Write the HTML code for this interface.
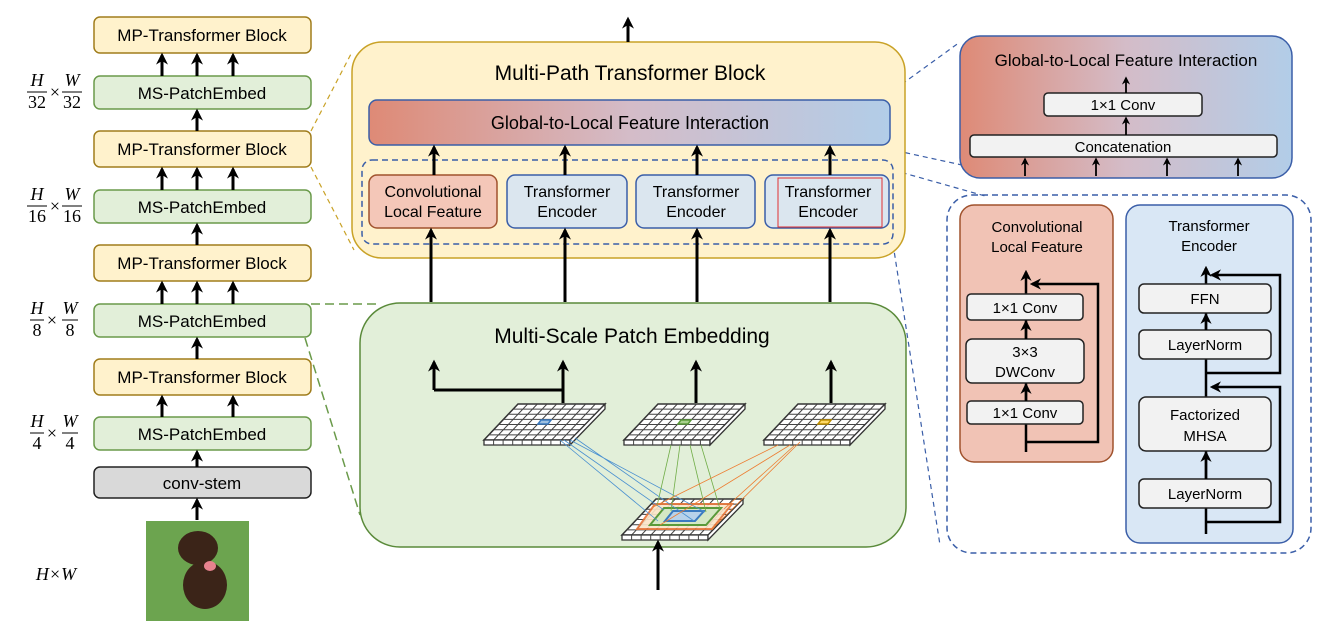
<!DOCTYPE html>
<html><head><meta charset="utf-8"><style>
html,body{margin:0;padding:0;background:#fff;}
svg{display:block;font-family:"Liberation Sans",sans-serif;}
</style></head><body>
<svg width="1331" height="637" viewBox="0 0 1331 637" xmlns="http://www.w3.org/2000/svg">
<defs>
<marker id="ah" viewBox="0 0 10 10" refX="8" refY="5" markerWidth="4" markerHeight="4" orient="auto-start-reverse"><path d="M0,0 L10,5 L0,10 L3,5 z" fill="#000"/></marker>
<marker id="ahs" viewBox="0 0 10 10" refX="8" refY="5" markerWidth="4.5" markerHeight="4.5" orient="auto-start-reverse"><path d="M0,0 L10,5 L0,10 L3,5 z" fill="#000"/></marker>
<linearGradient id="gl" x1="0" x2="1" y1="0" y2="0"><stop offset="0" stop-color="#de8a76"/><stop offset="0.5" stop-color="#d4bcc8"/><stop offset="1" stop-color="#b2cde8"/></linearGradient>
<g id="gridu">
<rect x="0" y="0" width="9" height="7" fill="#fff" stroke="#333" vector-effect="non-scaling-stroke" stroke-width="1.5"/>
<path d="M1,0V7M2,0V7M3,0V7M4,0V7M5,0V7M6,0V7M7,0V7M8,0V7M0,1H9M0,2H9M0,3H9M0,4H9M0,5H9M0,6H9" stroke="#444" stroke-width="1" vector-effect="non-scaling-stroke" fill="none"/>
</g>
<g id="grid">
<use href="#gridu" transform="matrix(9.67,0,-4.86,5.14,518,404)"/>
<polygon points="484,440 570,440 570,445 484,445" fill="#fff" stroke="#333" stroke-width="1.3"/>
<polygon points="570,440 605,404 605,409 570,445" fill="#fff" stroke="#333" stroke-width="1.3"/>
<path d="M493.6,440V445M503.1,440V445M512.7,440V445M522.2,440V445M531.8,440V445M541.3,440V445M550.9,440V445M560.4,440V445" stroke="#444" stroke-width="1"/>
</g>
</defs>

<!-- LEFT COLUMN -->
<g font-size="17" text-anchor="middle" fill="#000">
<rect x="94" y="17" width="217" height="36" rx="6" fill="#fff2cc" stroke="#a07d1c" stroke-width="1.5"/><text x="202" y="41">MP-Transformer Block</text>
<rect x="94" y="76" width="217" height="33" rx="6" fill="#e2efd9" stroke="#6a9a4a" stroke-width="1.5"/><text x="202" y="99">MS-PatchEmbed</text>
<rect x="94" y="131" width="217" height="36" rx="6" fill="#fff2cc" stroke="#a07d1c" stroke-width="1.5"/><text x="202" y="155">MP-Transformer Block</text>
<rect x="94" y="190" width="217" height="33" rx="6" fill="#e2efd9" stroke="#6a9a4a" stroke-width="1.5"/><text x="202" y="213">MS-PatchEmbed</text>
<rect x="94" y="245" width="217" height="36" rx="6" fill="#fff2cc" stroke="#a07d1c" stroke-width="1.5"/><text x="202" y="269">MP-Transformer Block</text>
<rect x="94" y="304" width="217" height="33" rx="6" fill="#e2efd9" stroke="#6a9a4a" stroke-width="1.5"/><text x="202" y="327">MS-PatchEmbed</text>
<rect x="94" y="359" width="217" height="36" rx="6" fill="#fff2cc" stroke="#a07d1c" stroke-width="1.5"/><text x="202" y="383">MP-Transformer Block</text>
<rect x="94" y="417" width="217" height="33" rx="6" fill="#e2efd9" stroke="#6a9a4a" stroke-width="1.5"/><text x="202" y="440">MS-PatchEmbed</text>
<rect x="94" y="467" width="217" height="31" rx="6" fill="#d9d9d9" stroke="#222" stroke-width="1.5"/><text x="202" y="489">conv-stem</text>
</g>
<g stroke="#000" stroke-width="3" marker-end="url(#ah)">
<line x1="162" y1="76" x2="162" y2="55"/><line x1="197" y1="76" x2="197" y2="55"/><line x1="233" y1="76" x2="233" y2="55"/>
<line x1="197" y1="131" x2="197" y2="111"/>
<line x1="162" y1="190" x2="162" y2="169"/><line x1="197" y1="190" x2="197" y2="169"/><line x1="233" y1="190" x2="233" y2="169"/>
<line x1="197" y1="245" x2="197" y2="225"/>
<line x1="162" y1="304" x2="162" y2="283"/><line x1="197" y1="304" x2="197" y2="283"/><line x1="233" y1="304" x2="233" y2="283"/>
<line x1="197" y1="359" x2="197" y2="339"/>
<line x1="162" y1="417" x2="162" y2="397"/><line x1="233" y1="417" x2="233" y2="397"/>
<line x1="197" y1="467" x2="197" y2="452"/>
<line x1="197" y1="520" x2="197" y2="500"/>
</g>
<!-- fractions -->
<g font-family="Liberation Serif,serif" font-size="18" text-anchor="middle">
<g><text x="37" y="86" font-style="italic">H</text><line x1="27" y1="92" x2="47" y2="92" stroke="#000"/><text x="37" y="108">32</text><text x="55" y="98">×</text><text x="72" y="86" font-style="italic">W</text><line x1="62" y1="92" x2="82" y2="92" stroke="#000"/><text x="72" y="108">32</text></g>
<g transform="translate(0,114)"><text x="37" y="86" font-style="italic">H</text><line x1="27" y1="92" x2="47" y2="92" stroke="#000"/><text x="37" y="108">16</text><text x="55" y="98">×</text><text x="72" y="86" font-style="italic">W</text><line x1="62" y1="92" x2="82" y2="92" stroke="#000"/><text x="72" y="108">16</text></g>
<g transform="translate(0,228)"><text x="37" y="86" font-style="italic">H</text><line x1="30" y1="92" x2="44" y2="92" stroke="#000"/><text x="37" y="108">8</text><text x="52" y="98">×</text><text x="70" y="86" font-style="italic">W</text><line x1="62" y1="92" x2="78" y2="92" stroke="#000"/><text x="70" y="108">8</text></g>
<g transform="translate(0,341)"><text x="37" y="86" font-style="italic">H</text><line x1="30" y1="92" x2="44" y2="92" stroke="#000"/><text x="37" y="108">4</text><text x="52" y="98">×</text><text x="70" y="86" font-style="italic">W</text><line x1="62" y1="92" x2="78" y2="92" stroke="#000"/><text x="70" y="108">4</text></g>
<text x="56" y="580" font-style="italic">H×W</text>
</g>
<!-- dog -->
<rect x="146" y="521" width="103" height="100" fill="#5f9a48"/>
<rect x="146" y="521" width="103" height="100" fill="#7fb35a" opacity="0.4"/>
<ellipse cx="198" cy="548" rx="20" ry="17" fill="#3b2418"/>
<ellipse cx="205" cy="585" rx="22" ry="24" fill="#3b2418"/>
<ellipse cx="210" cy="566" rx="6" ry="5" fill="#e7828e"/>

<!-- connector dashes -->
<g fill="none" stroke-dasharray="5,4" stroke-width="1.2">
<path d="M311,131 L352,52 M311,167 L354,250" stroke="#c9a227"/>
<path d="M311,304 L380,304 M305,338 L360,515" stroke="#6a9a4a" stroke-dasharray="9,5" stroke-width="1.5"/>
<path d="M880,100 L960,42 M870,145 L962,165 M893,170 L985,196 M893,244 L940,545" stroke="#3a5ea8"/>
</g>

<!-- YELLOW MP block -->
<rect x="352" y="42" width="553" height="216" rx="30" fill="#fff2cc" stroke="#c9a227" stroke-width="1.5"/>
<text x="630" y="80" font-size="21" text-anchor="middle">Multi-Path Transformer Block</text>
<rect x="369" y="100" width="521" height="45" rx="8" fill="url(#gl)" stroke="#3a5ea8" stroke-width="1.5"/>
<text x="630" y="129" font-size="18" text-anchor="middle">Global-to-Local Feature Interaction</text>
<rect x="362" y="160" width="531" height="84" rx="10" fill="none" stroke="#3a5ea8" stroke-width="1.5" stroke-dasharray="6,4"/>
<rect x="369" y="175" width="128" height="53" rx="8" fill="#f4c7b8" stroke="#a0522d" stroke-width="1.5"/>
<rect x="507" y="175" width="120" height="53" rx="8" fill="#dbe6ef" stroke="#3a5ea8" stroke-width="1.5"/>
<rect x="636" y="175" width="119" height="53" rx="8" fill="#dbe6ef" stroke="#3a5ea8" stroke-width="1.5"/>
<rect x="765" y="175" width="124" height="53" rx="8" fill="#dbe6ef" stroke="#3a5ea8" stroke-width="1.5"/>
<rect x="778" y="178" width="104" height="49" fill="none" stroke="#e03030" stroke-width="1"/>
<g font-size="16" text-anchor="middle">
<text x="433" y="197">Convolutional</text><text x="433" y="217">Local Feature</text>
<text x="567" y="197">Transformer</text><text x="567" y="217">Encoder</text>
<text x="696" y="197">Transformer</text><text x="696" y="217">Encoder</text>
<text x="828" y="197">Transformer</text><text x="828" y="217">Encoder</text>
</g>
<g stroke="#000" stroke-width="3" marker-end="url(#ah)">
<line x1="628" y1="42" x2="628" y2="19"/>
<line x1="434" y1="175" x2="434" y2="147"/><line x1="565" y1="175" x2="565" y2="147"/><line x1="697" y1="175" x2="697" y2="147"/><line x1="830" y1="175" x2="830" y2="147"/>
<line x1="431" y1="302" x2="431" y2="230"/><line x1="565" y1="302" x2="565" y2="230"/><line x1="697" y1="302" x2="697" y2="230"/><line x1="830" y1="302" x2="830" y2="230"/>
</g>

<!-- GREEN MS block -->
<rect x="360" y="303" width="546" height="244" rx="40" fill="#e2efd9" stroke="#5a8a3a" stroke-width="1.5"/>
<text x="632" y="343" font-size="21" text-anchor="middle">Multi-Scale Patch Embedding</text>
<g stroke="#000" stroke-width="3" fill="none">
<path d="M563,403 V390 H434" />
<line x1="434" y1="390" x2="434" y2="362" marker-end="url(#ah)"/>
<line x1="563" y1="403" x2="563" y2="362" marker-end="url(#ah)"/>
<line x1="696" y1="403" x2="696" y2="362" marker-end="url(#ah)"/>
<line x1="831" y1="403" x2="831" y2="362" marker-end="url(#ah)"/>
</g>
<use href="#grid"/>
<use href="#grid" transform="translate(140,0)"/>
<use href="#grid" transform="translate(280,0)"/>
<use href="#grid" transform="translate(138,95)"/>
<!-- highlight squares -->
<polygon points="541,420 551,420 548,424 538,424" fill="#9ec0e0" stroke="#3a7ac0" stroke-width="1.5"/>
<polygon points="681,420 691,420 688,424 678,424" fill="#a8d08d" stroke="#5a9a3a" stroke-width="1.5"/>
<polygon points="821,420 831,420 828,424 818,424" fill="#ffd966" stroke="#c09000" stroke-width="1.5"/>
<polygon points="655,504 732,504 712,529 637,529" fill="#fbe5c8" stroke="#e8763a" stroke-width="2" opacity="0.9"/>
<polygon points="664,508 721,508 706,525 650,525" fill="#d5e8c4" stroke="#5a9a3a" stroke-width="2"/>
<polygon points="673,511 704,511 695,521 665,521" fill="#b7d2ea" stroke="#3a7ac0" stroke-width="2"/>
<g stroke-width="0.8" fill="none">
<path d="M564,440 L664,510 M570,440 L705,512 M560,440 L658,521 M575,438 L694,521" stroke="#4a90d0"/>
<path d="M671,445 L657,506 M680,445 L671,511 M690,445 L706,512 M701,445 L720,509" stroke="#70ad47"/>
<path d="M778,445 L653,507 M790,445 L660,525 M795,445 L724,509 M800,442 L712,529" stroke="#ed7d31"/>
</g>
<line x1="658" y1="590" x2="658" y2="542" stroke="#000" stroke-width="3" marker-end="url(#ah)"/>

<!-- RIGHT TOP GLFI -->
<rect x="960" y="36" width="332" height="142" rx="20" fill="url(#gl)" stroke="#3a5ea8" stroke-width="1.5"/>
<text x="1126" y="66" font-size="17" text-anchor="middle">Global-to-Local Feature Interaction</text>
<rect x="1044" y="93" width="158" height="23" rx="4" fill="#f2f2f2" stroke="#222" stroke-width="1.5"/>
<text x="1123" y="110" font-size="15" text-anchor="middle">1×1 Conv</text>
<rect x="970" y="135" width="307" height="22" rx="4" fill="#f2f2f2" stroke="#222" stroke-width="1.5"/>
<text x="1123" y="152" font-size="15" text-anchor="middle">Concatenation</text>
<g stroke="#000" stroke-width="1.8" marker-end="url(#ahs)">
<line x1="1126" y1="93" x2="1126" y2="78"/><line x1="1126" y1="135" x2="1126" y2="118"/>
<line x1="1025" y1="176" x2="1025" y2="159"/><line x1="1096" y1="176" x2="1096" y2="159"/><line x1="1167" y1="176" x2="1167" y2="159"/><line x1="1238" y1="176" x2="1238" y2="159"/>
</g>

<!-- RIGHT BOTTOM DETAIL -->
<rect x="947" y="195" width="364" height="358" rx="25" fill="none" stroke="#3a5ea8" stroke-width="1.5" stroke-dasharray="6,4"/>
<rect x="960" y="205" width="153" height="257" rx="14" fill="#f1c3b5" stroke="#a0522d" stroke-width="1.5"/>
<text x="1037" y="232" font-size="15" text-anchor="middle">Convolutional</text>
<text x="1037" y="252" font-size="15" text-anchor="middle">Local Feature</text>
<rect x="1126" y="205" width="167" height="338" rx="14" fill="#d9e7f5" stroke="#3a5ea8" stroke-width="1.5"/>
<text x="1209" y="231" font-size="15" text-anchor="middle">Transformer</text>
<text x="1209" y="251" font-size="15" text-anchor="middle">Encoder</text>
<g stroke="#000" stroke-width="2.5" fill="none">
<path d="M1026,442 H1098 V284 H1032" marker-end="url(#ahs)"/>
<line x1="1026" y1="452" x2="1026" y2="272" marker-end="url(#ahs)"/>
<path d="M1206,522 H1280 V387 H1212" marker-end="url(#ahs)"/>
<path d="M1206,373 H1280 V275 H1212" marker-end="url(#ahs)"/>
<line x1="1206" y1="534" x2="1206" y2="268" marker-end="url(#ahs)"/>
</g>
<g font-size="15" text-anchor="middle">
<rect x="967" y="294" width="116" height="26" rx="4" fill="#f2f2f2" stroke="#222" stroke-width="1.5"/><text x="1025" y="313">1×1  Conv</text>
<rect x="966" y="339" width="118" height="44" rx="6" fill="#f2f2f2" stroke="#222" stroke-width="1.5"/><text x="1025" y="357">3×3</text><text x="1025" y="377">DWConv</text>
<rect x="967" y="401" width="116" height="23" rx="4" fill="#f2f2f2" stroke="#222" stroke-width="1.5"/><text x="1025" y="418">1×1 Conv</text>
<rect x="1139" y="284" width="132" height="29" rx="5" fill="#f2f2f2" stroke="#222" stroke-width="1.5"/><text x="1205" y="304">FFN</text>
<rect x="1139" y="330" width="132" height="29" rx="5" fill="#f2f2f2" stroke="#222" stroke-width="1.5"/><text x="1205" y="350">LayerNorm</text>
<rect x="1139" y="397" width="132" height="54" rx="7" fill="#f2f2f2" stroke="#222" stroke-width="1.5"/><text x="1205" y="420">Factorized</text><text x="1205" y="441">MHSA</text>
<rect x="1139" y="479" width="132" height="29" rx="5" fill="#f2f2f2" stroke="#222" stroke-width="1.5"/><text x="1205" y="499">LayerNorm</text>
</g>
<g stroke="#000" stroke-width="2.5" marker-end="url(#ahs)">
<line x1="1026" y1="339" x2="1026" y2="322"/><line x1="1026" y1="401" x2="1026" y2="385"/>
<line x1="1206" y1="330" x2="1206" y2="315"/><line x1="1206" y1="479" x2="1206" y2="453"/>
</g>
</svg>
</body></html>
